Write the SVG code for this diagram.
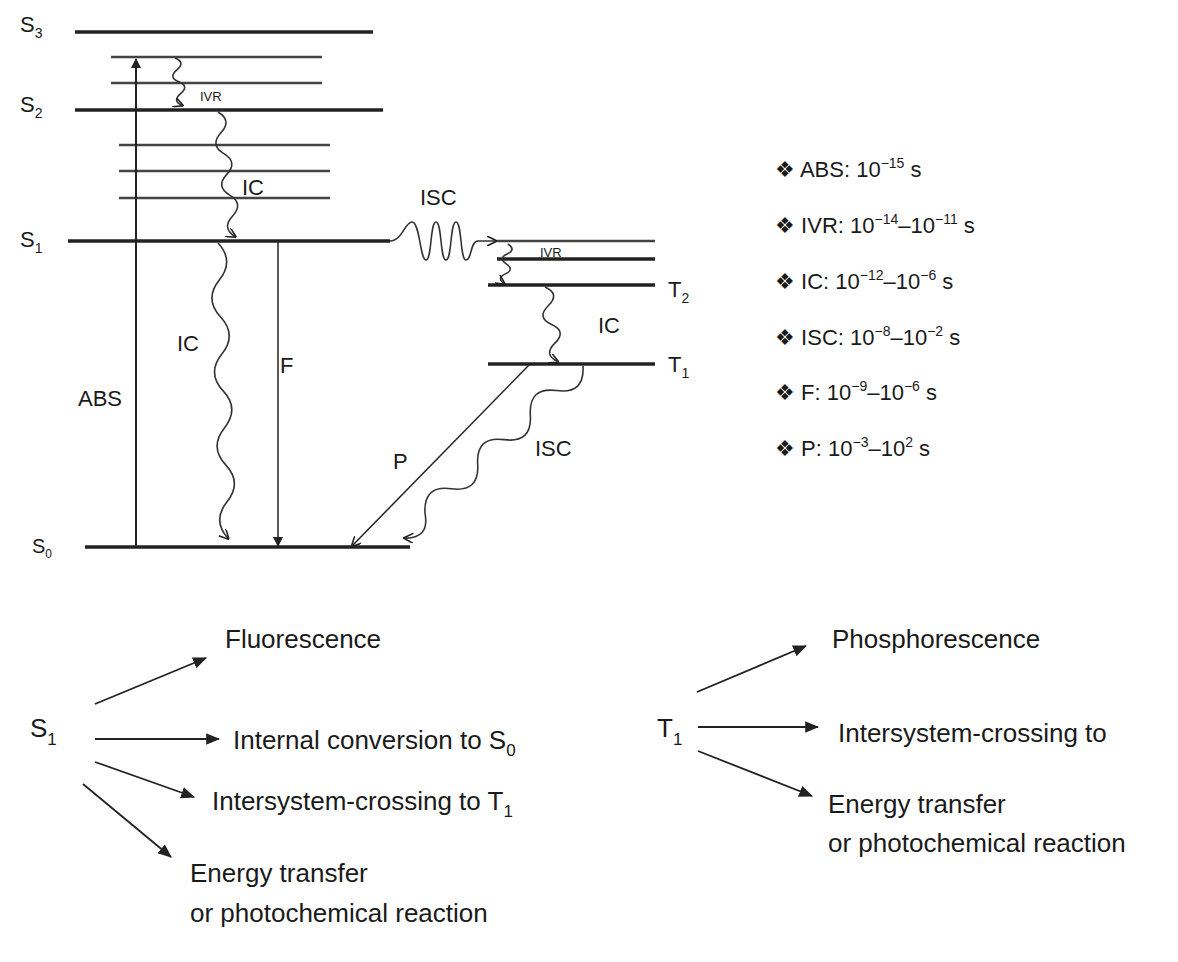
<svg xmlns="http://www.w3.org/2000/svg" width="1178" height="962" viewBox="0 0 1178 962">
<defs>
<marker id="fa" viewBox="0 0 10 10" refX="9" refY="5" markerWidth="10" markerHeight="10" markerUnits="userSpaceOnUse" orient="auto"><path d="M0,0 L10,5 L0,10 Z" fill="#222"/></marker>
<marker id="oa" viewBox="0 0 10 10" refX="9" refY="5" markerWidth="10" markerHeight="10" markerUnits="userSpaceOnUse" orient="auto"><path d="M0,0 L10,5 L0,10" fill="none" stroke="#222" stroke-width="1.6"/></marker>
<marker id="ba" viewBox="0 0 12 10" refX="11" refY="5" markerWidth="14" markerHeight="12" markerUnits="userSpaceOnUse" orient="auto"><path d="M0,0 L12,5 L0,10 Z" fill="#222"/></marker>
</defs>
<style>
text{font-family:"Liberation Sans",Arial,sans-serif;fill:#1a1a1a}
.t{stroke:#222;stroke-width:3.5}
.m{stroke:#444;stroke-width:2.5}
.w{fill:none;stroke:#333;stroke-width:1.6}
.l{font-size:22px}
.s{font-size:13px}
.g{font-size:22px}
.b{font-size:26px}
.sup{font-size:14px}
</style>
<rect width="1178" height="962" fill="#fff"/>
<g id="levels">
<line class="t" x1="75" y1="32" x2="373" y2="32"/>
<line class="m" x1="111" y1="57" x2="322" y2="57"/>
<line class="m" x1="111" y1="83" x2="322" y2="83"/>
<line class="t" x1="75" y1="110" x2="383" y2="110"/>
<line class="m" x1="119" y1="145" x2="330" y2="145"/>
<line class="m" x1="119" y1="171" x2="330" y2="171"/>
<line class="m" x1="119" y1="198" x2="330" y2="198"/>
<line class="t" x1="68" y1="241" x2="390" y2="241"/>
<line class="m" x1="497" y1="241" x2="655" y2="241"/>
<line class="t" x1="497" y1="259" x2="655" y2="259"/>
<line class="t" x1="488" y1="285" x2="655" y2="285"/>
<line class="t" x1="488" y1="364" x2="655" y2="364"/>
<line class="t" x1="85" y1="547" x2="410" y2="547"/>
</g>
<g id="connectors">
<line x1="136" y1="547" x2="136" y2="59" stroke="#222" stroke-width="2" marker-end="url(#fa)"/>
<line x1="278" y1="241" x2="278" y2="546" stroke="#222" stroke-width="1.5" marker-end="url(#fa)"/>
<line x1="530" y1="364" x2="352" y2="546" stroke="#222" stroke-width="1.5" marker-end="url(#oa)"/>
<path class="w" marker-end="url(#oa)" transform="translate(175,58) rotate(81)" d="M0,0 q6,-10 12,0 q6,10 12,0 q6,-10 12,0 q6,10 12,0"/>
<path class="w" marker-end="url(#oa)" transform="translate(218,112) rotate(82)" d="M0,0 q10.5,-13 21,0 q10.5,13 21,0 q10.5,-13 21,0 q10.5,13 21,0 q10.5,-13 21,0 q10.5,13 21,0"/>
<path class="w" marker-end="url(#oa)" transform="translate(218,243) rotate(88)" d="M0,0 q18.5,-16 37,0 q18.5,16 37,0 q18.5,-16 37,0 q18.5,16 37,0 q18.5,-16 37,0 q18.5,16 37,0 q18.5,-16 37,0 q18.5,16 37,0"/>
<path class="w" marker-end="url(#oa)" d="M390,241 C402,241 405,222 412,222 C420,222 420,260 426,260 C432,260 430,222 436,222 C442,222 440,260 446,260 C452,260 450,222 456,222 C462,222 460,260 466,260 C472,260 470,241 478,241 L496,241"/>
<path class="w" marker-end="url(#oa)" transform="translate(508,244) rotate(95)" d="M0,0 q5,-9 10,0 q5,9 10,0 q5,-9 10,0 q5,9 10,0"/>
<path class="w" marker-end="url(#oa)" transform="translate(545,287) rotate(80)" d="M0,0 q9.5,-14 19,0 q9.5,14 19,0 q9.5,-14 19,0 q9.5,14 19,0"/>
<path class="w" marker-end="url(#oa)" transform="translate(583,366) rotate(137)" d="M0,0 q18,-22 36,0 q18,22 36,0 q18,-22 36,0 q18,22 36,0 q18,-22 36,0 q18,22 36,0 q14,-22 32,-4"/>
<line x1="95" y1="704" x2="206" y2="658" stroke="#222" stroke-width="1.8" marker-end="url(#ba)"/>
<line x1="95" y1="739" x2="219" y2="739" stroke="#222" stroke-width="1.8" marker-end="url(#ba)"/>
<line x1="95" y1="762" x2="194" y2="797" stroke="#222" stroke-width="1.8" marker-end="url(#ba)"/>
<line x1="83" y1="784" x2="171" y2="857" stroke="#222" stroke-width="1.8" marker-end="url(#ba)"/>
<line x1="697" y1="692" x2="806" y2="646" stroke="#222" stroke-width="1.8" marker-end="url(#ba)"/>
<line x1="698" y1="727" x2="818" y2="727" stroke="#222" stroke-width="1.8" marker-end="url(#ba)"/>
<line x1="698" y1="751" x2="812" y2="796" stroke="#222" stroke-width="1.8" marker-end="url(#ba)"/>
</g>
<g id="labels">
<text x="20" y="32" class="l">S<tspan class="sup" dy="6">3</tspan></text>
<text x="20" y="112" class="l">S<tspan class="sup" dy="6">2</tspan></text>
<text x="20" y="247" class="l">S<tspan class="sup" dy="6">1</tspan></text>
<text x="32" y="553" font-size="20">S<tspan font-size="12" dy="5">0</tspan></text>
<text x="200" y="101" class="s">IVR</text>
<text x="242" y="195" class="l">IC</text>
<text x="420" y="205" class="l">ISC</text>
<text x="540" y="257" class="s">IVR</text>
<text x="668" y="297" class="l">T<tspan class="sup" dy="6">2</tspan></text>
<text x="598" y="333" class="l">IC</text>
<text x="668" y="372" class="l">T<tspan class="sup" dy="6">1</tspan></text>
<text x="177" y="351" class="l">IC</text>
<text x="280" y="373" class="l">F</text>
<text x="78" y="406" class="l">ABS</text>
<text x="393" y="469" class="l">P</text>
<text x="535" y="456" class="l">ISC</text>
</g>
<g id="legend" class="g">
<text x="775" y="177">❖ ABS: 10<tspan class="sup" dy="-9">−15</tspan><tspan dy="9"> s</tspan></text>
<text x="775" y="233">❖ IVR: 10<tspan class="sup" dy="-9">−14</tspan><tspan dy="9">–10</tspan><tspan class="sup" dy="-9">−11</tspan><tspan dy="9"> s</tspan></text>
<text x="775" y="289">❖ IC: 10<tspan class="sup" dy="-9">−12</tspan><tspan dy="9">–10</tspan><tspan class="sup" dy="-9">−6</tspan><tspan dy="9"> s</tspan></text>
<text x="775" y="345">❖ ISC: 10<tspan class="sup" dy="-9">−8</tspan><tspan dy="9">–10</tspan><tspan class="sup" dy="-9">−2</tspan><tspan dy="9"> s</tspan></text>
<text x="775" y="400">❖ F: 10<tspan class="sup" dy="-9">−9</tspan><tspan dy="9">–10</tspan><tspan class="sup" dy="-9">−6</tspan><tspan dy="9"> s</tspan></text>
<text x="775" y="456">❖ P: 10<tspan class="sup" dy="-9">−3</tspan><tspan dy="9">–10</tspan><tspan class="sup" dy="-9">2</tspan><tspan dy="9"> s</tspan></text>
</g>
<g id="bottom" class="b">
<text x="30" y="737">S<tspan font-size="17" dy="8">1</tspan></text>
<text x="225" y="648">Fluorescence</text>
<text x="233" y="749">Internal conversion to S<tspan font-size="17" dy="7">0</tspan></text>
<text x="212" y="810">Intersystem-crossing to T<tspan font-size="17" dy="7">1</tspan></text>
<text x="190" y="882">Energy transfer</text>
<text x="190" y="922">or photochemical reaction</text>
<text x="657" y="737">T<tspan font-size="17" dy="8">1</tspan></text>
<text x="832" y="648">Phosphorescence</text>
<text x="838" y="742">Intersystem-crossing to</text>
<text x="828" y="813">Energy transfer</text>
<text x="828" y="852">or photochemical reaction</text>
</g>
</svg>
